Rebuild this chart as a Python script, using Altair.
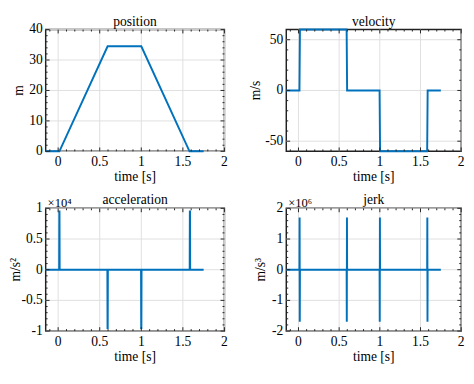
import altair as alt
import pandas as pd

FONT = "Liberation Serif"
BLUE = "#0072BD"
GRID = "#dfdfdf"
FRAME = "#222222"

# ---- data ----
pos_t = [-0.15, 0.015, 0.595, 1.0, 1.58, 1.75]
pos_v = [0, 0, 34.5, 34.5, 0, 0]

vel_t = [-0.15, 0.012, 0.018, 0.592, 0.598, 0.997, 1.003, 1.582, 1.588, 1.75]
vel_v = [0, 0, 60, 60, 0, 0, -60, -60, 0, 0]

acc_t = [-0.15, 0.012, 0.014, 0.016, 0.018, 0.592, 0.594, 0.596, 0.598,
         0.997, 0.999, 1.001, 1.003, 1.582, 1.584, 1.586, 1.588, 1.75]
acc_v = [0, 0, 0.95, 0.95, 0, 0, -0.95, -0.95, 0,
         0, -0.95, -0.95, 0, 0, 0.95, 0.95, 0, 0]  # x 10^4

jerk_t = [-0.15, 0.012, 0.014, 0.016, 0.018, 0.592, 0.594, 0.596, 0.598,
          0.997, 0.999, 1.001, 1.003, 1.582, 1.584, 1.586, 1.588, 1.75]
jerk_v = [0, 0, 1.7, -1.7, 0, 0, -1.7, 1.7, 0,
          0, -1.7, 1.7, 0, 0, 1.7, -1.7, 0, 0]  # x 10^6

# ---- axes ticks ----
X_DOMAIN = [-0.15, 2]
X_MAJOR = [0, 0.5, 1, 1.5, 2]
X_MINOR = [-0.1, 0.1, 0.2, 0.3, 0.4, 0.6, 0.7, 0.8, 0.9, 1.1, 1.2, 1.3, 1.4,
           1.6, 1.7, 1.8, 1.9]

POS_MAJOR = [0, 10, 20, 30, 40]
POS_MINOR = [2, 4, 6, 8, 12, 14, 16, 18, 22, 24, 26, 28, 32, 34, 36, 38]
VEL_MAJOR = [-50, 0, 50]
VEL_MINOR = [-40, -30, -20, -10, 10, 20, 30, 40]
ACC_MAJOR = [-1, -0.5, 0, 0.5, 1]
ACC_MINOR = [-0.9, -0.8, -0.7, -0.6, -0.4, -0.3, -0.2, -0.1,
             0.1, 0.2, 0.3, 0.4, 0.6, 0.7, 0.8, 0.9]
JERK_MAJOR = [-2, -1, 0, 1, 2]
JERK_MINOR = [-1.8, -1.6, -1.4, -1.2, -0.8, -0.6, -0.4, -0.2,
              0.2, 0.4, 0.6, 0.8, 1.2, 1.4, 1.6, 1.8]

X_LABELS = [str(v) for v in X_MAJOR]


def panel(t, v, title, ydom, ymaj, ymin, ytitle, note, W, H, ytitle_dx):
    df = pd.DataFrame({"t": t, "v": v, "i": list(range(len(t)))})
    xs = alt.Scale(domain=X_DOMAIN, nice=False, zero=False)
    ys = alt.Scale(domain=ydom, nice=False, zero=False)
    line = alt.Chart(df).mark_line(color=BLUE, strokeWidth=2, clip=False).encode(
        x=alt.X("t:Q", scale=xs, axis=None),
        y=alt.Y("v:Q", scale=ys, axis=None),
        order="i:Q",
    )
    # grid lines at major ticks
    gx = alt.Chart(pd.DataFrame({"t": X_MAJOR})).mark_rule(
        color=GRID, strokeWidth=1).encode(
        x=alt.X("t:Q", scale=xs, axis=None))
    gy = alt.Chart(pd.DataFrame({"v": ymaj})).mark_rule(
        color=GRID, strokeWidth=1).encode(
        y=alt.Y("v:Q", scale=ys, axis=None))
    layers = [gx, gy, line]
    for vx, vy, size in [(X_MAJOR, ymaj, 4), (X_MINOR, ymin, 2)]:
        dx = pd.DataFrame({"t": vx})
        dy = pd.DataFrame({"v": vy})
        layers.append(alt.Chart(dx).mark_rule(color=FRAME, strokeWidth=1).encode(
            x=alt.X("t:Q", scale=xs, axis=None),
            y=alt.value(H), y2=alt.value(H - size)))
        layers.append(alt.Chart(dx).mark_rule(color=FRAME, strokeWidth=1).encode(
            x=alt.X("t:Q", scale=xs, axis=None),
            y=alt.value(0), y2=alt.value(size)))
        layers.append(alt.Chart(dy).mark_rule(color=FRAME, strokeWidth=1).encode(
            y=alt.Y("v:Q", scale=ys, axis=None),
            x=alt.value(0), x2=alt.value(size)))
        layers.append(alt.Chart(dy).mark_rule(color=FRAME, strokeWidth=1).encode(
            y=alt.Y("v:Q", scale=ys, axis=None),
            x=alt.value(W - size), x2=alt.value(W)))
    # tick labels as text marks positioned by the scales
    xl = alt.Chart(pd.DataFrame({"t": X_MAJOR, "s": X_LABELS})).mark_text(
        font=FONT, fontSize=14, baseline="top", align="center", color="black"
    ).encode(x=alt.X("t:Q", scale=xs, axis=None), y=alt.value(H + 4), text="s:N")
    yl = alt.Chart(pd.DataFrame({"v": ymaj, "s": [str(v) for v in ymaj]})).mark_text(
        font=FONT, fontSize=14, baseline="middle", align="right", color="black"
    ).encode(y=alt.Y("v:Q", scale=ys, axis=None), x=alt.value(-3), text="s:N")
    xt = alt.Chart(pd.DataFrame({"s": ["time [s]"]})).mark_text(
        font=FONT, fontSize=14, baseline="top", align="center", color="black"
    ).encode(text="s:N", x=alt.value(W / 2), y=alt.value(H + 20))
    yt = alt.Chart(pd.DataFrame({"s": [ytitle]})).mark_text(
        font=FONT, fontSize=14, baseline="middle", align="center", angle=270,
        color="black").encode(text="s:N", x=alt.value(ytitle_dx), y=alt.value(H / 2))
    ttl = alt.Chart(pd.DataFrame({"s": [title]})).mark_text(
        font=FONT, fontSize=14, align="center", baseline="alphabetic",
        color="black").encode(text="s:N", x=alt.value(W / 2), y=alt.value(-4))
    layers += [xl, yl, xt, yt, ttl]
    if note:
        nt = alt.Chart(pd.DataFrame({"s": [note]})).mark_text(
            font=FONT, fontSize=13, align="left", baseline="alphabetic",
            color="black").encode(text="s:N", x=alt.value(2), y=alt.value(-1))
        layers.append(nt)
    return alt.layer(*layers).properties(
        width=W, height=H,
        view=alt.ViewBackground(stroke=FRAME, strokeWidth=1.5))


p1 = panel(pos_t, pos_v, "position", [0, 40], POS_MAJOR, POS_MINOR, "m", None, 185, 126, -27)
p2 = panel(vel_t, vel_v, "velocity", [-60, 60], VEL_MAJOR, VEL_MINOR, "m/s", None, 181, 126, -31)
p3 = panel(acc_t, acc_v, "acceleration", [-1, 1], ACC_MAJOR, ACC_MINOR, "m/s²", "×10⁴", 185, 127, -31)
p4 = panel(jerk_t, jerk_v, "jerk", [-2, 2], JERK_MAJOR, JERK_MINOR, "m/s³", "×10⁶", 181, 127, -26)

chart = alt.concat(p1, p2, p3, p4, columns=2,
                   spacing={"row": 8, "column": 20}).configure_view(
    stroke=FRAME, strokeWidth=1.5
).properties(padding={"left": 0, "top": 0, "right": 0, "bottom": 0})

chart.save("out.html", embed_options={"renderer": "svg", "actions": False})
